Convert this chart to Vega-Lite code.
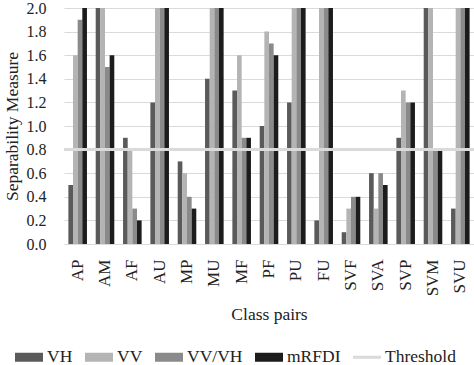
{
  "$schema": "https://vega.github.io/schema/vega-lite/v6.json",
  "autosize": {"type": "none"},
  "padding": {"left": 64, "top": 8, "right": 0, "bottom": 121},
  "width": 410,
  "height": 236,
  "background": "white",
  "config": {
    "view": {"stroke": null},
    "font": "Liberation Serif",
    "text": {"font": "Liberation Serif"},
    "axis": {"labelFont": "Liberation Serif", "titleFont": "Liberation Serif", "labelColor": "#222", "titleColor": "#222", "titleFontWeight": "normal"},
    "legend": {"labelFont": "Liberation Serif", "titleFont": "Liberation Serif", "labelColor": "#222"}
  },
  "data": {
    "values": [
      {"pair": "AP", "series": "VH", "value": 0.5},
      {"pair": "AP", "series": "VV", "value": 1.6},
      {"pair": "AP", "series": "VV/VH", "value": 1.9},
      {"pair": "AP", "series": "mRFDI", "value": 2.0},
      {"pair": "AM", "series": "VH", "value": 2.0},
      {"pair": "AM", "series": "VV", "value": 2.0},
      {"pair": "AM", "series": "VV/VH", "value": 1.5},
      {"pair": "AM", "series": "mRFDI", "value": 1.6},
      {"pair": "AF", "series": "VH", "value": 0.9},
      {"pair": "AF", "series": "VV", "value": 0.8},
      {"pair": "AF", "series": "VV/VH", "value": 0.3},
      {"pair": "AF", "series": "mRFDI", "value": 0.2},
      {"pair": "AU", "series": "VH", "value": 1.2},
      {"pair": "AU", "series": "VV", "value": 2.0},
      {"pair": "AU", "series": "VV/VH", "value": 2.0},
      {"pair": "AU", "series": "mRFDI", "value": 2.0},
      {"pair": "MP", "series": "VH", "value": 0.7},
      {"pair": "MP", "series": "VV", "value": 0.6},
      {"pair": "MP", "series": "VV/VH", "value": 0.4},
      {"pair": "MP", "series": "mRFDI", "value": 0.3},
      {"pair": "MU", "series": "VH", "value": 1.4},
      {"pair": "MU", "series": "VV", "value": 2.0},
      {"pair": "MU", "series": "VV/VH", "value": 2.0},
      {"pair": "MU", "series": "mRFDI", "value": 2.0},
      {"pair": "MF", "series": "VH", "value": 1.3},
      {"pair": "MF", "series": "VV", "value": 1.6},
      {"pair": "MF", "series": "VV/VH", "value": 0.9},
      {"pair": "MF", "series": "mRFDI", "value": 0.9},
      {"pair": "PF", "series": "VH", "value": 1.0},
      {"pair": "PF", "series": "VV", "value": 1.8},
      {"pair": "PF", "series": "VV/VH", "value": 1.7},
      {"pair": "PF", "series": "mRFDI", "value": 1.6},
      {"pair": "PU", "series": "VH", "value": 1.2},
      {"pair": "PU", "series": "VV", "value": 2.0},
      {"pair": "PU", "series": "VV/VH", "value": 2.0},
      {"pair": "PU", "series": "mRFDI", "value": 2.0},
      {"pair": "FU", "series": "VH", "value": 0.2},
      {"pair": "FU", "series": "VV", "value": 2.0},
      {"pair": "FU", "series": "VV/VH", "value": 2.0},
      {"pair": "FU", "series": "mRFDI", "value": 2.0},
      {"pair": "SVF", "series": "VH", "value": 0.1},
      {"pair": "SVF", "series": "VV", "value": 0.3},
      {"pair": "SVF", "series": "VV/VH", "value": 0.4},
      {"pair": "SVF", "series": "mRFDI", "value": 0.4},
      {"pair": "SVA", "series": "VH", "value": 0.6},
      {"pair": "SVA", "series": "VV", "value": 0.3},
      {"pair": "SVA", "series": "VV/VH", "value": 0.6},
      {"pair": "SVA", "series": "mRFDI", "value": 0.5},
      {"pair": "SVP", "series": "VH", "value": 0.9},
      {"pair": "SVP", "series": "VV", "value": 1.3},
      {"pair": "SVP", "series": "VV/VH", "value": 1.2},
      {"pair": "SVP", "series": "mRFDI", "value": 1.2},
      {"pair": "SVM", "series": "VH", "value": 2.0},
      {"pair": "SVM", "series": "VV", "value": 2.0},
      {"pair": "SVM", "series": "VV/VH", "value": 0.8},
      {"pair": "SVM", "series": "mRFDI", "value": 0.8},
      {"pair": "SVU", "series": "VH", "value": 0.3},
      {"pair": "SVU", "series": "VV", "value": 2.0},
      {"pair": "SVU", "series": "VV/VH", "value": 2.0},
      {"pair": "SVU", "series": "mRFDI", "value": 2.0}
    ]
  },
  "encoding": {
    "y": {
      "field": "value", "type": "quantitative",
      "scale": {"domain": [0, 2], "nice": false},
      "axis": {
        "title": "Separability Measure", "titleFont": "Liberation Serif", "titleFontSize": 17.5, "titleX": -52, "titleY": 118,
        "titleAngle": -90, "titleAlign": "center", "titleBaseline": "middle",
        "labelFont": "Liberation Serif",
        "values": [0, 0.2, 0.4, 0.6, 0.8, 1.0, 1.2, 1.4, 1.6, 1.8, 2.0], "format": ".1f",
        "labelOverlap": false, "labelFontSize": 16, "labelPadding": 18, "ticks": false, "domain": false,
        "grid": true, "gridColor": "#dadada", "gridWidth": 1
      }
    },
    "color": {
      "field": "series", "type": "nominal",
      "scale": {
        "domain": ["VH", "VV", "VV/VH", "mRFDI", "Threshold"],
        "range": ["#5a5a5a", "#b4b4b4", "#8a8a8a", "#1c1c1c", "#dadada"]
      },
      "legend": {
        "orient": "none", "direction": "horizontal", "columns": 5,
        "legendX": -49, "legendY": 339, "title": null,
        "labelFont": "Liberation Serif",
        "labelFontSize": 17.5, "labelOffset": 12, "columnPadding": 12,
        "symbolSize": 400,
        "symbolType": "M-1,-0.45L1.8,-0.45L1.8,0.45L-1,0.45Z",
        "encode": {
          "symbols": {
            "update": {
              "shape": {"signal": "datum.value === 'Threshold' ? 'M-1,-0.15L1.8,-0.15L1.8,0.15L-1,0.15Z' : 'M-1,-0.45L1.8,-0.45L1.8,0.45L-1,0.45Z'"},
              "fill": {"scale": "color", "field": "value"},
              "stroke": {"value": "transparent"},
              "strokeWidth": {"value": 0},
              "opacity": {"value": 1},
              "fillOpacity": {"value": 1}
            }
          }
        }
      }
    }
  },
  "layer": [
    {
      "mark": {"type": "bar", "clip": true},
      "encoding": {
        "x": {
          "field": "pair", "type": "nominal", "sort": null,
          "scale": {"paddingInner": 0.32, "paddingOuter": 0.16},
          "axis": {
            "title": "Class pairs", "titleFont": "Liberation Serif", "titleFontSize": 17.5, "titleY": 75, "titleBaseline": "alphabetic",
            "labelFont": "Liberation Serif",
            "labelAngle": -90, "labelAlign": "right", "labelBaseline": "middle", "labelFontSize": 17,
            "labelPadding": 15, "ticks": false, "domain": false
          }
        },
        "xOffset": {"field": "series", "type": "nominal", "sort": ["VH", "VV", "VV/VH", "mRFDI"]}
      }
    },
    {
      "data": {"values": [{"series": "Threshold", "value": 0.8}]},
      "mark": {"type": "rule", "strokeWidth": 3},
      "encoding": {}
    }
  ]
}
